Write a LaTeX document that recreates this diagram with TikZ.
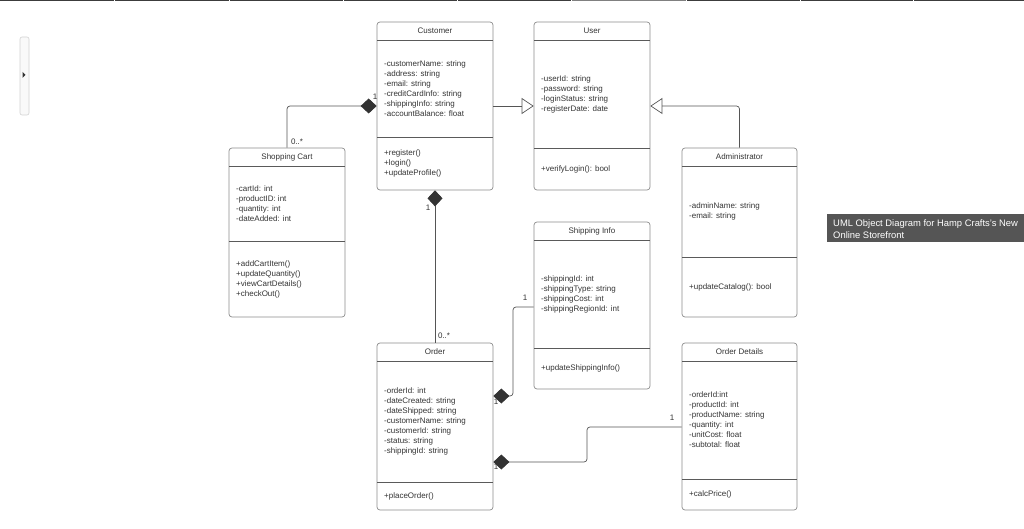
\documentclass[tikz,border=0pt]{standalone}
\usepackage{fontspec}
\setmainfont{Liberation Sans}
\usetikzlibrary{fit,calc,arrows.meta}

\definecolor{boxgray}{HTML}{8C8C8C}
\definecolor{divgray}{HTML}{5A5A5A}
\definecolor{linegray}{HTML}{555555}
\definecolor{diagray}{HTML}{333333}
\definecolor{txtgray}{HTML}{333333}
\definecolor{tipfill}{HTML}{555555}
\definecolor{barfill}{HTML}{3C3C3C}

\tikzset{
  classbox/.style={draw=boxgray,line width=0.7pt,rounded corners=3pt,inner sep=0pt},
  divline/.style={draw=divgray,line width=0.7pt},
  titletext/.style={font=\fontsize{8}{10}\selectfont,text=txtgray,inner sep=0pt},
  membertext/.style={font=\fontsize{8}{10}\selectfont,text=txtgray,align=left,inner sep=0pt,anchor=west},
  multtext/.style={font=\fontsize{8}{10}\selectfont,text=txtgray,inner sep=0pt},
  assoc/.style={draw=linegray,line width=0.7pt,rounded corners=3pt},
  compo/.style={assoc,{Diamond[length=16pt,width=15pt,color=diagray,fill=diagray]}-},
  gen/.style={assoc,-{Triangle[open,length=12pt,width=16pt]}},
}

% name, left, top, right, bottom, second divider, title, attributes, operations
\newcommand{\umlclass}[9]{%
  \coordinate (#1-nw) at (#2,#3);
  \coordinate (#1-se) at (#4,#5);
  \node[classbox,fit=(#1-nw)(#1-se)] (#1) {};
  \draw[divline] (#2,#3+18) -- (#4,#3+18);
  \draw[divline] (#2,#6) -- (#4,#6);
  \node[titletext] (#1-title) at ({(#2+#4)/2},#3+9) {#7};
  \node[membertext] (#1-attr) at (#2+7,{(#3+18+#6)/2}) {#8};
  \node[membertext] (#1-op) at (#2+7,{(#6+#5)/2}) {#9};
}

\begin{document}
\begin{tikzpicture}[x=1pt,y=-1pt,line join=round]
  \useasboundingbox (0,0) rectangle (1024,529);

  % window chrome
  \fill[barfill] (0,0) rectangle (1024,1.5);
  \fill[gray] (571,0) rectangle (686,1.5);
  \foreach \sx in {114,229,343,457,571,686,800,913}
    \fill[white] (\sx,0) rectangle (\sx+0.6,1.5);
  \draw[draw=gray!35,fill=gray!5,line width=0.6pt,rounded corners=2pt] (20,37) rectangle (29,115);
  \fill[diagray] (22.5,72) -- (25.5,75) -- (22.5,78) -- cycle;

  % classes
  \umlclass{cust}{377}{22}{493}{190}{137}{Customer}
    {-customerName: string\\-address: string\\-email: string\\-creditCardInfo: string\\-shippingInfo: string\\-accountBalance: float}
    {+register()\\+login()\\+updateProfile()}
  \umlclass{user}{534}{22}{650}{190}{148}{User}
    {-userId: string\\-password: string\\-loginStatus: string\\-registerDate: date}
    {+verifyLogin(): bool}
  \umlclass{cart}{229}{148}{345}{317}{241}{Shopping Cart}
    {-cartId: int\\-productID: int\\-quantity: int\\-dateAdded: int}
    {+addCartItem()\\+updateQuantity()\\+viewCartDetails()\\+checkOut()}
  \umlclass{admin}{682}{148}{797}{317}{257}{Administrator}
    {-adminName: string\\-email: string}
    {+updateCatalog(): bool}
  \umlclass{ship}{534}{222}{650}{389}{348}{Shipping Info}
    {-shippingId: int\\-shippingType: string\\-shippingCost: int\\-shippingRegionId: int}
    {+updateShippingInfo()}
  \umlclass{order}{377}{343}{493}{510}{482}{Order}
    {-orderId: int\\-dateCreated: string\\-dateShipped: string\\-customerName: string\\-customerId: string\\-status: string\\-shippingId: string}
    {+placeOrder()}
  \umlclass{details}{682}{343}{797}{510}{479}{Order Details}
    {-orderId:int\\-productId: int\\-productName: string\\-quantity: int\\-unitCost: float\\-subtotal: float}
    {+calcPrice()}

  % connectors
  \draw[compo] (cust.west |- 0,106) -| (cart.north);
  \draw[gen] (cust.east |- 0,106) -- (user.west |- 0,106);
  \draw[gen] (admin.north) |- (user.east |- 0,106);
  \draw[compo] (cust.south) -- (order.north);
  \draw[compo] (order.east |- 0,396) -- (513,396) |- (ship.west |- 0,307);
  \draw[compo] (order.east |- 0,462) -- (587,462) |- (details.west |- 0,427);

  % multiplicities
  \node[multtext] (m-cust-cart) at (375,97) {1};
  \node[multtext] (m-cart) at (297,142) {0..*};
  \node[multtext] (m-cust-order) at (428,208) {1};
  \node[multtext] (m-order) at (444,336) {0..*};
  \node[multtext] (m-ship) at (525,298) {1};
  \node[multtext] (m-order-ship) at (496,402) {1};
  \node[multtext] (m-details) at (672,418) {1};
  \node[multtext] (m-order-details) at (496,467) {1};

  % tooltip
  \fill[tipfill] (827,214) rectangle (1024,242);
  \node[anchor=west,align=left,inner sep=0pt,text=white,
        font=\fontsize{9.4}{12}\selectfont] (tip) at (833,229)
    {UML Object Diagram for Hamp Crafts's New\\Online Storefront};
\end{tikzpicture}
\end{document}
